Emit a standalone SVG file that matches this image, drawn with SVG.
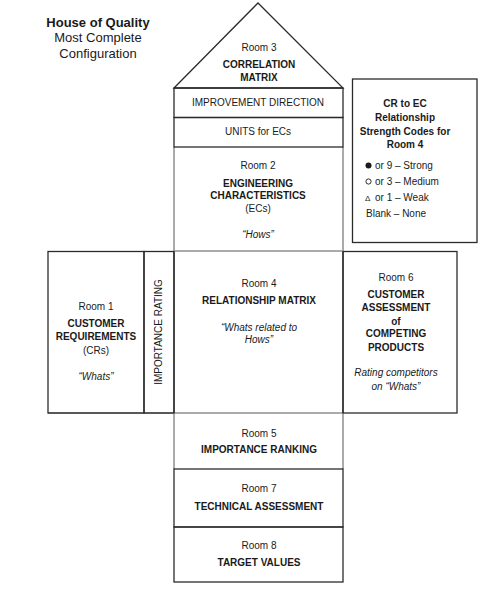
<svg xmlns="http://www.w3.org/2000/svg" width="487" height="589" viewBox="0 0 487 589">
<style>
.bx{fill:none;stroke:#2b2b2b;stroke-width:1.3}
.gr{fill:none;stroke:#ababab;stroke-width:2}
text{font-family:"Liberation Sans",Arial,sans-serif;fill:#1a1a1a;text-anchor:middle;font-size:10px}
.b{font-weight:bold}
.i{font-style:italic}
.t{font-size:13px}
.l{text-anchor:start}
</style>
<rect width="487" height="589" fill="#fff"/>
<g id="title">
<text class="t b" x="98" y="27">House of Quality</text>
<text class="t" x="98" y="42">Most Complete</text>
<text class="t" x="98" y="58">Configuration</text>
</g>
<g id="connectors">
<path class="gr" d="M174,147V251M343,147V251M174,251H343M48,413H343M174,413V469M343,413V469"/>
</g>
<g id="room3">
<polygon class="bx" points="174,88 258,3 343,88"/>
<text x="259" y="51">Room 3</text>
<text class="b" x="259" y="68">CORRELATION</text>
<text class="b" x="259" y="81">MATRIX</text>
</g>
<g id="improvement">
<rect class="bx" x="174" y="88" width="169" height="29.5"/>
<text x="258" y="106">IMPROVEMENT DIRECTION</text>
</g>
<g id="units">
<rect class="bx" x="174" y="117.5" width="169" height="29.5"/>
<text x="258" y="135">UNITS for ECs</text>
</g>
<g id="room2">
<text x="258" y="169">Room 2</text>
<text class="b" x="258" y="187">ENGINEERING</text>
<text class="b" x="258" y="199">CHARACTERISTICS</text>
<text x="258" y="212">(ECs)</text>
<text class="i" x="258" y="238">“Hows”</text>
</g>
<g id="legend">
<rect class="bx" x="352.5" y="79" width="124.5" height="163.5"/>
<text class="b" x="405" y="107">CR to EC</text>
<text class="b" x="405" y="121">Relationship</text>
<text class="b" x="405" y="135">Strength Codes for</text>
<text class="b" x="405" y="148">Room 4</text>
<circle cx="368.5" cy="165.5" r="3" fill="#1a1a1a"/>
<text class="l" x="375" y="169">or 9 – Strong</text>
<circle cx="368.5" cy="181.5" r="2.6" fill="none" stroke="#1a1a1a" stroke-width="0.9"/>
<text class="l" x="375" y="185">or 3 – Medium</text>
<text class="l" x="365" y="201" style="font-size:8px">Δ</text>
<text class="l" x="375" y="201">or 1 – Weak</text>
<text class="l" x="366" y="217">Blank – None</text>
</g>
<g id="room1">
<rect class="bx" x="48" y="251.5" width="96" height="161.5"/>
<text x="96" y="310">Room 1</text>
<text class="b" x="96" y="327">CUSTOMER</text>
<text class="b" x="96" y="340">REQUIREMENTS</text>
<text x="96" y="354">(CRs)</text>
<text class="i" x="96" y="380">“Whats”</text>
</g>
<g id="importance">
<rect class="bx" x="144" y="251.5" width="30" height="161.5"/>
<text transform="translate(161.5,332) rotate(-90)">IMPORTANCE RATING</text>
</g>
<g id="room4">
<path class="bx" d="M174,251.5V413M343,251.5V413"/>
<text x="259" y="287">Room 4</text>
<text class="b" x="259" y="304">RELATIONSHIP MATRIX</text>
<text class="i" x="259" y="331">“Whats related to</text>
<text class="i" x="259" y="343">Hows”</text>
</g>
<g id="room6">
<rect class="bx" x="343" y="251.5" width="114" height="161.5"/>
<text x="396" y="281">Room 6</text>
<text class="b" x="396" y="298">CUSTOMER</text>
<text class="b" x="396" y="311">ASSESSMENT</text>
<text class="b" x="396" y="325">of</text>
<text class="b" x="396" y="337">COMPETING</text>
<text class="b" x="396" y="351">PRODUCTS</text>
<text class="i" x="396" y="376">Rating competitors</text>
<text class="i" x="396" y="390">on “Whats”</text>
</g>
<g id="room5">
<text x="259" y="437">Room 5</text>
<text class="b" x="259" y="453">IMPORTANCE RANKING</text>
</g>
<g id="room7">
<rect class="bx" x="174" y="469" width="169" height="58"/>
<text x="259" y="492">Room 7</text>
<text class="b" x="259" y="510">TECHNICAL ASSESSMENT</text>
</g>
<g id="room8">
<rect class="bx" x="174" y="527" width="169" height="55"/>
<text x="259" y="549">Room 8</text>
<text class="b" x="259" y="566">TARGET VALUES</text>
</g>
</svg>
